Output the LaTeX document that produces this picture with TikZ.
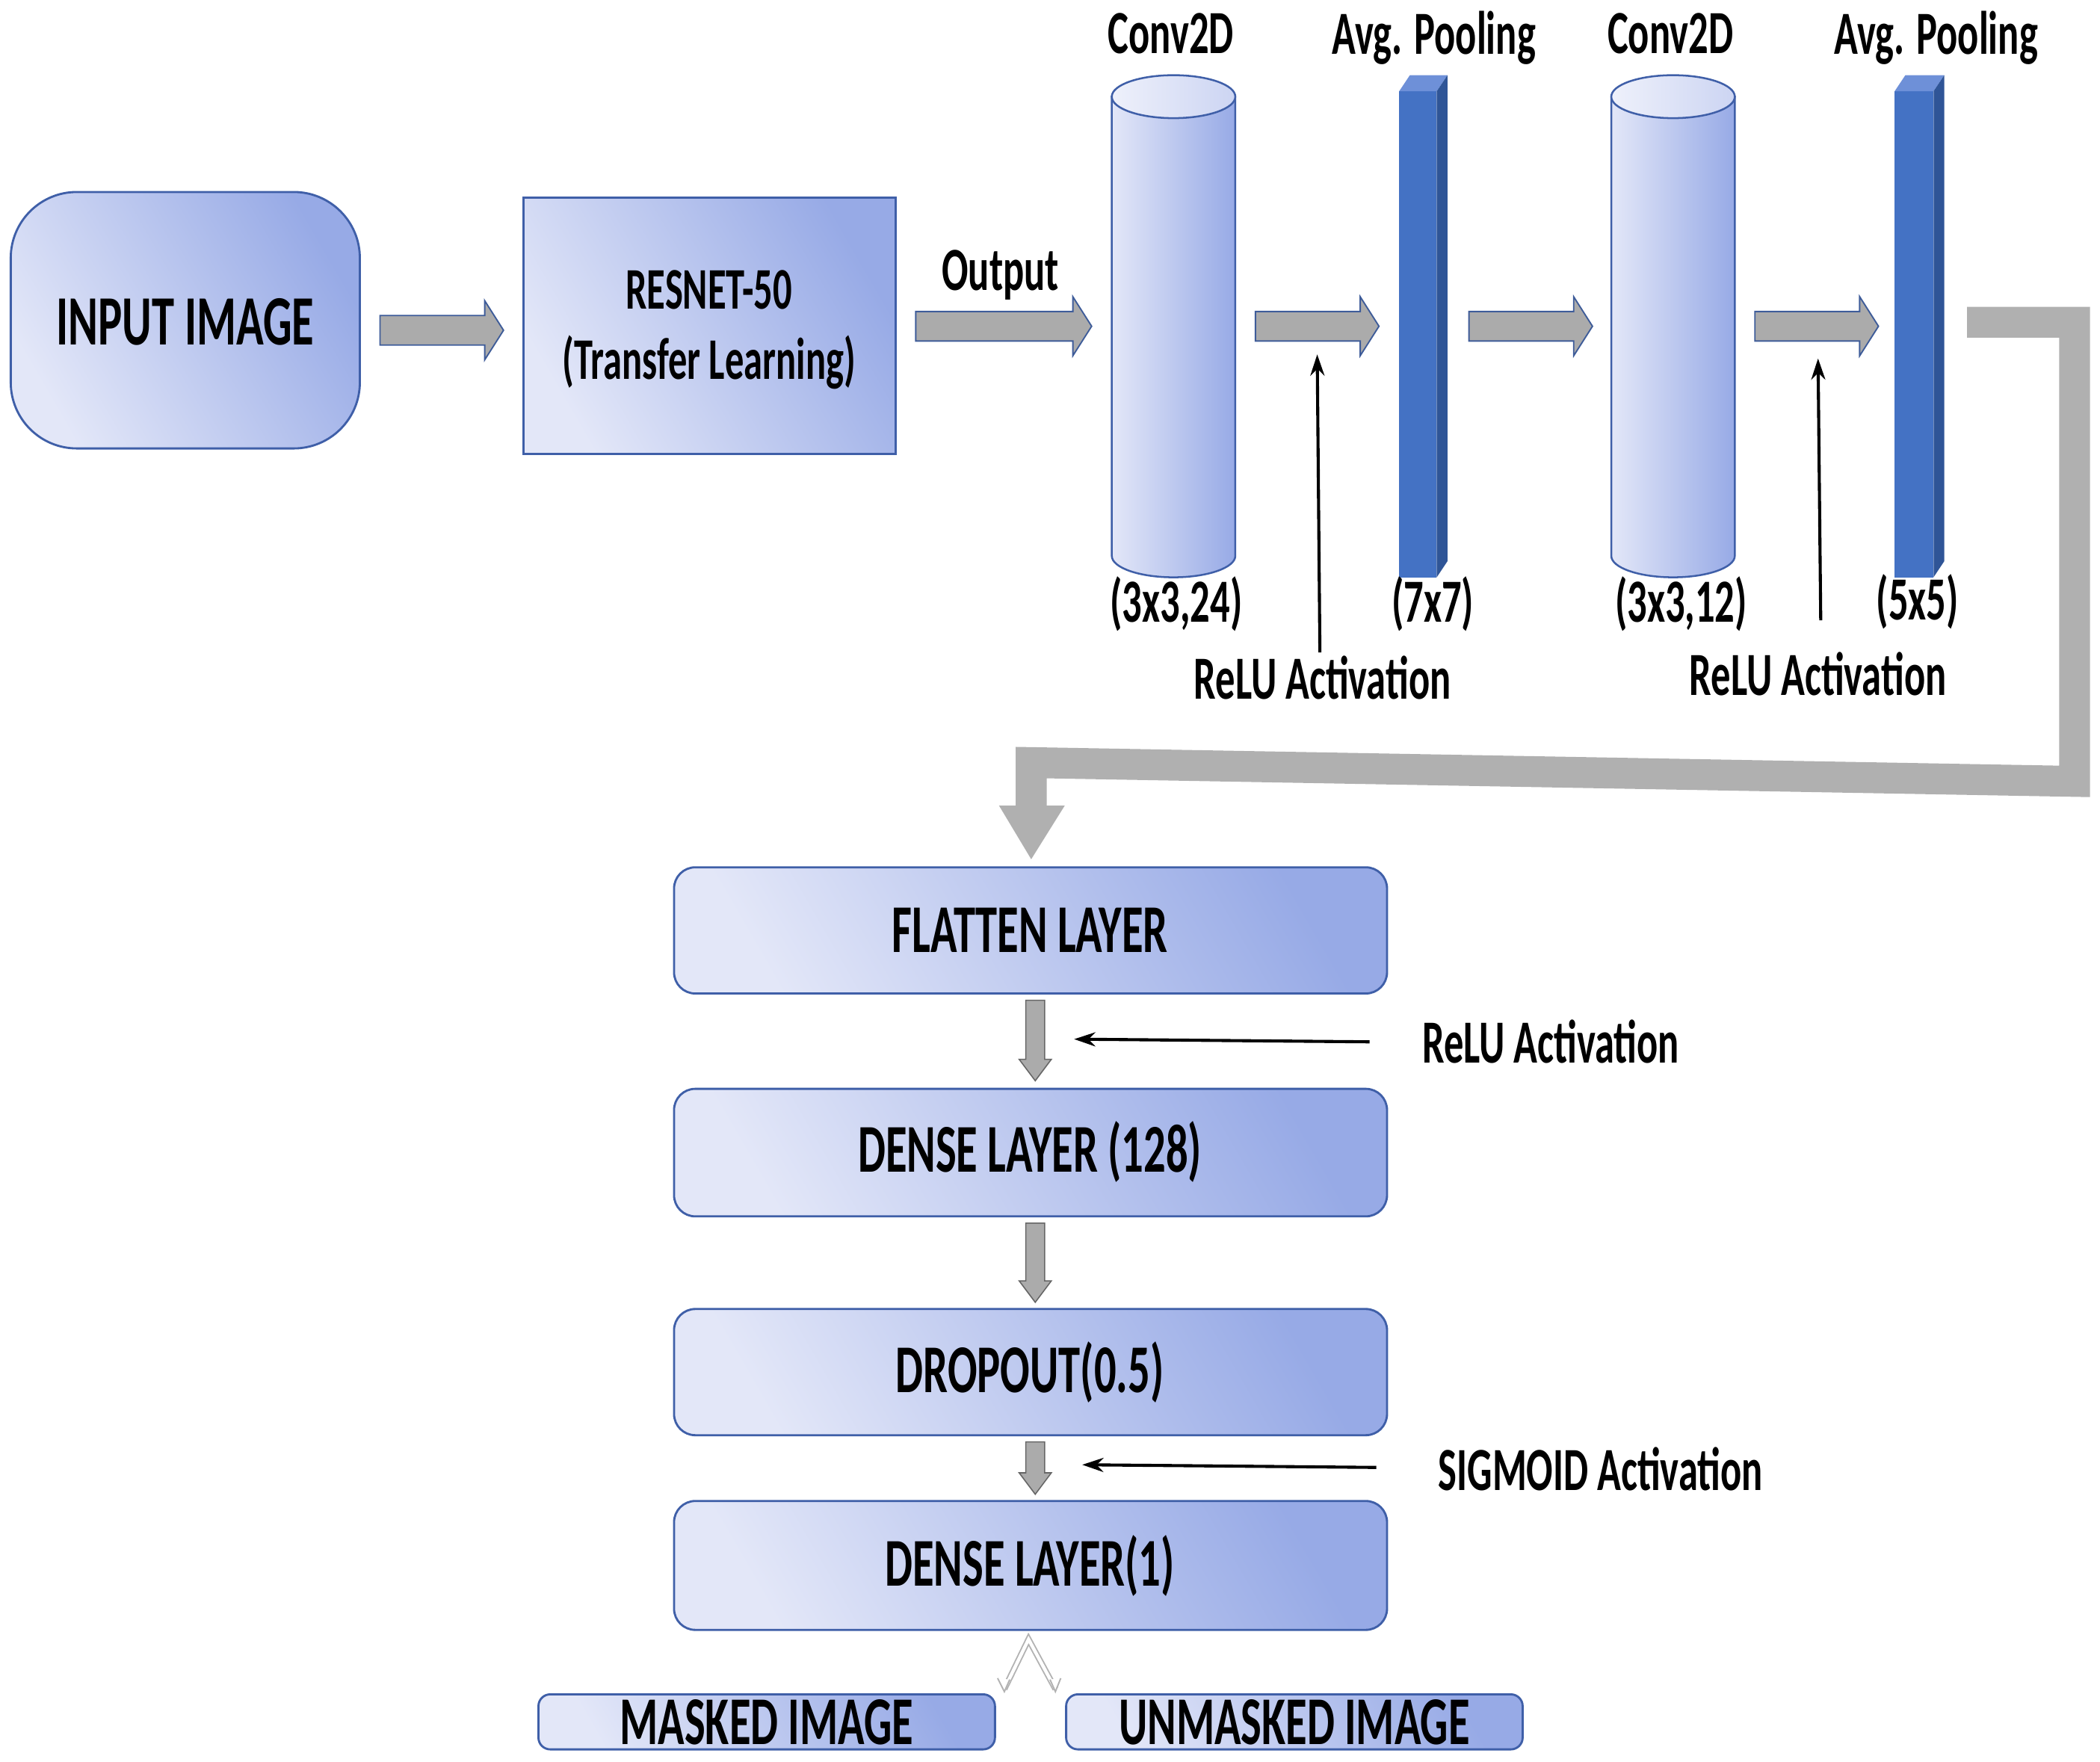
\documentclass[tikz,border=0pt]{standalone}
\usepackage{fontspec}
\usetikzlibrary{arrows.meta}
\setmainfont{Carlito}[FakeStretch=0.64,UprightFont=* Bold]
\definecolor{bL}{HTML}{E3E7F8}
\definecolor{bD}{HTML}{97AAE6}
\definecolor{bE}{HTML}{3F5FA8}
\definecolor{aG}{HTML}{ABABAB}
\definecolor{aE}{HTML}{3E5C99}
\definecolor{pF}{HTML}{4472C4}
\definecolor{pT}{HTML}{6E90D8}
\definecolor{pS}{HTML}{2F5597}
\definecolor{pG}{HTML}{B0B0B0}
\newcommand{\myharr}[3]{\fill[aG,draw=aE,line width=0.6pt] (#1,#3-11)--(#2-14,#3-11)--(#2-14,#3-22)--(#2,#3)--(#2-14,#3+22)--(#2-14,#3+11)--(#1,#3+11)--cycle;}
\newcommand{\myvarr}[3]{\fill[aG,draw=gray!80!black,line width=0.5pt] (#1-7,#2)--(#1+7,#2)--(#1+7,#3-16)--(#1+12,#3-16)--(#1,#3)--(#1-12,#3-16)--(#1-7,#3-16)--cycle;}
\newcommand{\mycyl}[4]{% x1 x2 ytop ybot
 \path[left color=bL,right color=bD,draw=bE,line width=0.8pt] (#1,#3)--(#1,#4) arc[start angle=180,end angle=0,x radius={(#2-#1)/2},y radius=16]--(#2,#3)--cycle;
 \path[left color=bL!60!white,right color=bL!70!bD,shading angle=90,draw=bE,line width=0.8pt] ({(#1+#2)/2},#3) ellipse[x radius={(#2-#1)/2},y radius=16];}
\newcommand{\mypool}[4]{% x1 x2(front) ytop ybot
 \fill[pF] (#1,#3) rectangle (#2,#4);
 \fill[pT] (#1,#3)--(#1+8,#3-12)--(#2+8,#3-12)--(#2,#3)--cycle;
 \fill[pS] (#2,#3)--(#2+8,#3-12)--(#2+8,#4-12)--(#2,#4)--cycle;}
\begin{document}
\begin{tikzpicture}[x=0.02cm,y=-0.02cm,
 box/.style={left color=bL,right color=bD,shading angle=120,draw=bE,line width=0.9pt},
 lbl/.style={font=\fontsize{26}{28}\selectfont,inner sep=0pt},
 blk/.style={-{Stealth[length=9pt,width=6pt]},line width=1.3pt}]
\useasboundingbox (0,0) rectangle (1564,1312);
% input image
\path[box,rounded corners=28] (8,143) rectangle (268,334);
\node[lbl,font=\fontsize{30}{32}\selectfont] (in) at (138,240) {INPUT IMAGE};
\myharr{283}{375}{246}
\path[box] (390,147) rectangle (667,338);
\node[lbl,font=\fontsize{25}{27}\selectfont] (rn) at (528,216) {RESNET-50};
\node[lbl,font=\fontsize{25}{27}\selectfont] (rn2) at (528,270) {(Transfer Learning)};
\node[lbl] (out) at (745,205) {Output};
\myharr{682}{813}{243}
% conv 1
\mycyl{828}{920}{72}{414}
\node[lbl] (c1) at (872,25) {Conv2D};
\node[lbl] (c1b) at (876,450) {(3x3,24)};
\myharr{935}{1027}{243}
\node[lbl] (r1) at (985,505) {ReLU Activation};
\coordinate (r1s) at (983,486);
\coordinate (r1e) at (981,264);
\draw[blk] (r1s)--(r1e);
\mypool{1042}{1070}{68}{430}
\node[lbl] (p1) at (1068,28) {Avg. Pooling};
\node[lbl] (p1b) at (1067,450) {(7x7)};
\myharr{1094}{1186}{243}
% conv 2
\mycyl{1200}{1292}{72}{414}
\node[lbl] (c2) at (1244,25) {Conv2D};
\node[lbl] (c2b) at (1252,450) {(3x3,12)};
\myharr{1307}{1399}{243}
\node[lbl] (r2) at (1354,502) {ReLU Activation};
\coordinate (r2s) at (1356,462);
\coordinate (r2e) at (1354,267);
\draw[blk] (r2s)--(r2e);
\mypool{1411}{1440}{68}{430}
\node[lbl] (p2) at (1442,28) {Avg. Pooling};
\node[lbl] (p2b) at (1428,448) {(5x5)};
% big gray connector
\draw[pG,line width=0.46cm,line join=miter] (1465,240)--(1545,240)--(1545,582)--(768,568)--(768,602);
\fill[pG] (744,600)--(793,600)--(768,640)--cycle;
% layers
\tikzset{lay/.style={box,rounded corners=9}}
\path[lay] (502,646) rectangle (1033,740);
\node[lbl,font=\fontsize{29}{31}\selectfont] (fl) at (767,693) {FLATTEN LAYER};
\myvarr{771}{745}{805}
\coordinate (a1s) at (1020,776);\coordinate (a1e) at (800,774);
\draw[blk] (a1s)--(a1e);
\node[lbl] (r3) at (1155,776) {ReLU Activation};
\path[lay] (502,811) rectangle (1033,906);
\node[lbl,font=\fontsize{29}{31}\selectfont] (d1) at (767,858) {DENSE LAYER (128)};
\myvarr{771}{911}{970}
\path[lay] (502,975) rectangle (1033,1069);
\node[lbl,font=\fontsize{29}{31}\selectfont] (dr) at (767,1022) {DROPOUT(0.5)};
\myvarr{771}{1074}{1113}
\coordinate (a2s) at (1025,1093);\coordinate (a2e) at (806,1091);
\draw[blk] (a2s)--(a2e);
\node[lbl] (sg) at (1192,1094) {SIGMOID Activation};
\path[lay] (502,1118) rectangle (1033,1214);
\node[lbl,font=\fontsize{29}{31}\selectfont] (d2) at (767,1166) {DENSE LAYER(1)};
% split arrow
\coordinate (ap) at (766,1221);\coordinate (t1) at (748,1258);\coordinate (t2) at (786,1258);
\draw[gray!60,double=white,double distance=1.4pt,line width=0.6pt,line join=miter] (t1)--(ap)--(t2);
\draw[gray!60,fill=white,line width=0.6pt] (743,1250)--(748,1260)--(752,1251);
\draw[gray!60,fill=white,line width=0.6pt] (782,1251)--(786,1260)--(790,1250);
\path[box,rounded corners=5] (401,1262) rectangle (741,1303);
\node[lbl,font=\fontsize{29}{30}\selectfont] (m) at (571,1283) {MASKED IMAGE};
\path[box,rounded corners=5] (794,1262) rectangle (1134,1303);
\node[lbl,font=\fontsize{29}{30}\selectfont] (u) at (964,1283) {UNMASKED IMAGE};
\end{tikzpicture}
\end{document}
